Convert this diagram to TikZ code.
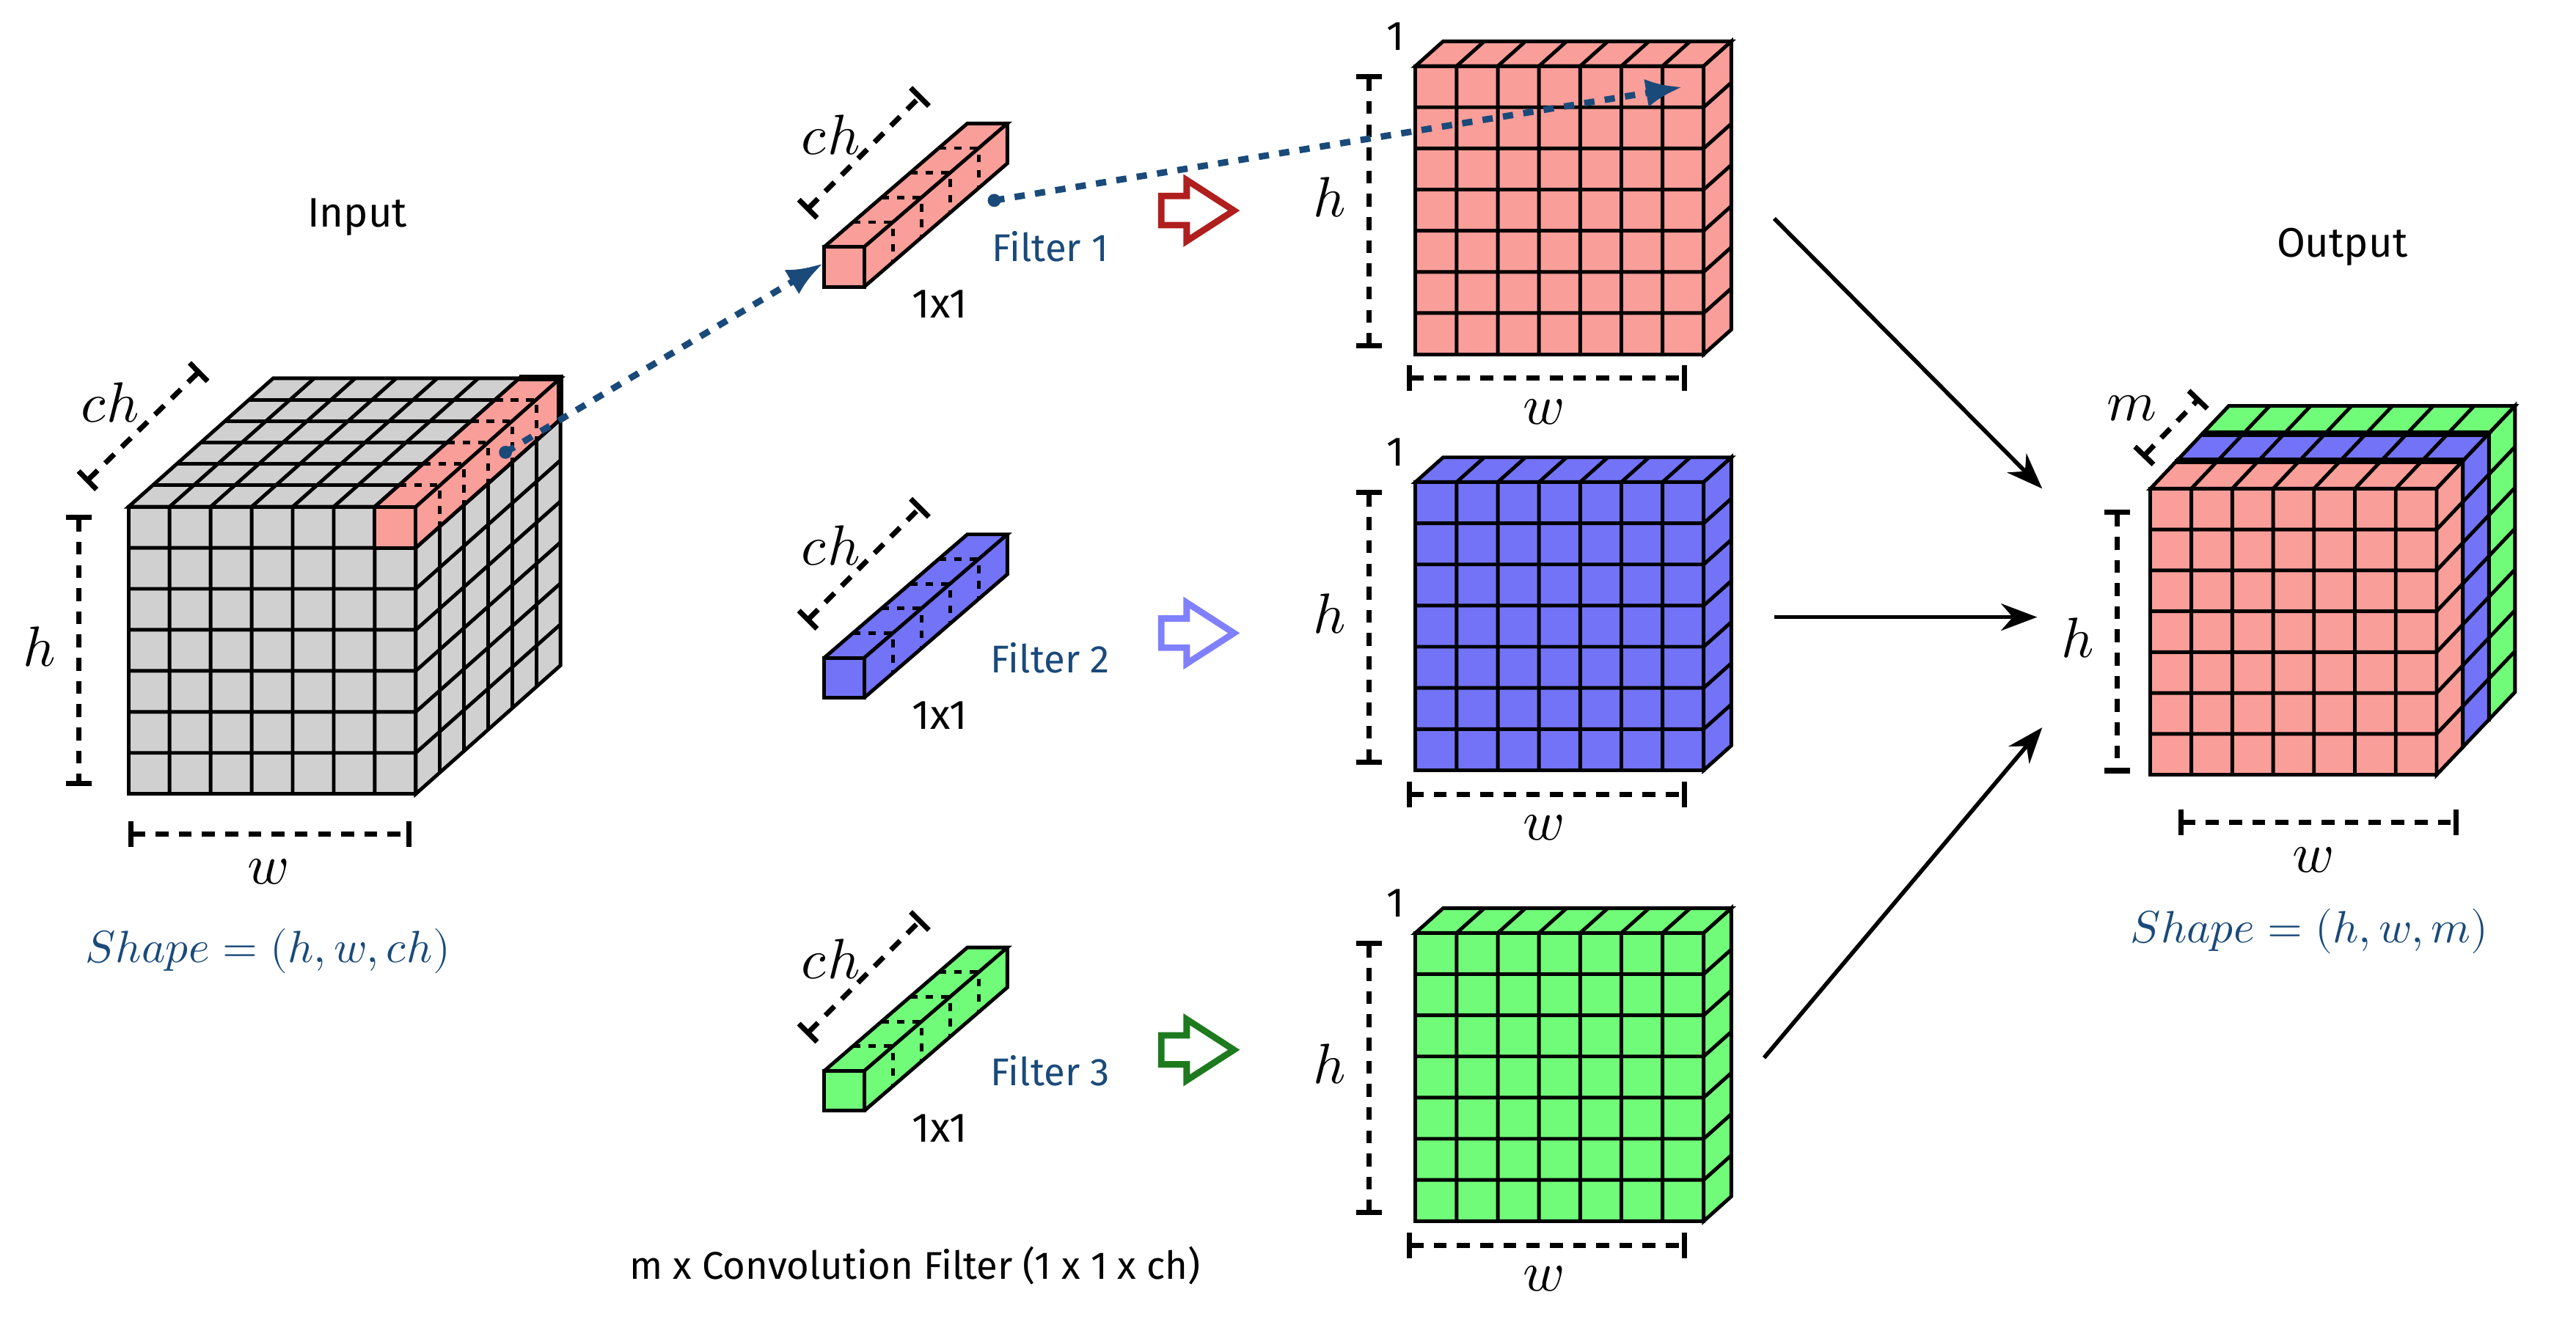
\documentclass[tikz,border=0pt]{standalone}
\usepackage{fontspec}
\setmainfont{Fira Sans}
\usepackage{unicode-math}
\setmathfont{Latin Modern Math}
\usetikzlibrary{arrows.meta}
\definecolor{cred}{HTML}{FA9E99}
\definecolor{cblue}{HTML}{7373F8}
\definecolor{cgreen}{HTML}{70FB78}
\definecolor{cgray}{HTML}{D0D0D0}
\definecolor{ctext}{HTML}{1A4A7A}
\definecolor{ared}{HTML}{B01E1E}
\definecolor{ablue}{HTML}{8080FF}
\definecolor{agreen}{HTML}{1E7A1E}
\newcommand{\gbox}[9]{%
 \pgfmathsetmacro\gbW{#3*#4}\pgfmathsetmacro\gbH{#3*#5}%
 \pgfmathsetmacro\gbDX{#7*#6}\pgfmathsetmacro\gbDY{#8*#6}%
 \filldraw[fill=#9] (#1,#2) rectangle ++(\gbW,\gbH);
 \filldraw[fill=#9] (#1,#2) -- ++(\gbDX,\gbDY) -- ++(\gbW,0) -- ++(-\gbDX,-\gbDY) -- cycle;
 \filldraw[fill=#9] (#1+\gbW,#2) -- ++(\gbDX,\gbDY) -- ++(0,\gbH) -- ++(-\gbDX,-\gbDY) -- cycle;
 \pgfmathtruncatemacro\gbA{#4-1}\pgfmathtruncatemacro\gbB{#5-1}\pgfmathtruncatemacro\gbC{#6-1}%
 \foreach \i in {1,...,\gbA}{\draw (#1+\i*#3,#2+\gbH) -- (#1+\i*#3,#2) -- ++(\gbDX,\gbDY);}
 \foreach \j in {1,...,\gbB}{\draw (#1,#2+\j*#3) -- ++(\gbW,0) -- ++(\gbDX,\gbDY);}
 \ifnum#6>1 \foreach \k in {1,...,\gbC}{\draw (#1+\k*#7,#2+\k*#8) -- ++(\gbW,0) -- ++(0,\gbH);}\fi
}
\newcommand{\filt}[3]{% x y color
 \fill[#3] (#1,#2) -- ++(197,-170) -- ++(55,0) -- ++(0,55) -- ++(-197,170) -- ++(-55,0) -- cycle;
 \foreach \k in {1,...,4}{\draw[line width=1.4pt,dash pattern=on 3pt off 3pt] (#1+\k*39.4,#2-\k*34) -- ++(55,0) -- ++(0,55);}
 \draw (#1,#2) -- ++(197,-170) -- ++(55,0) -- ++(-197,170);
 \draw (#1+55,#2+55) -- ++(197,-170) -- ++(0,-55);
 \draw (#1,#2) rectangle ++(55,55);
}
\newcommand{\harrow}[3]{% cx cy color
 \draw[#3,line width=2.5pt,fill=white] (#1-50,#2-20) -- (#1-15,#2-20) -- (#1-15,#2-42) -- (#1+50,#2) -- (#1-15,#2+42) -- (#1-15,#2+20) -- (#1-50,#2+20) -- cycle;
}
\tikzset{
 dim/.style={line width=2pt,dash pattern=on 5pt off 4pt,{Bar[width=10pt]}-{Bar[width=10pt]}},
 lab/.style={font=\fontsize{16}{19}\selectfont},
 mlab/.style={font=\fontsize{22}{26}\selectfont},
 flab/.style={font=\fontsize{15}{18}\selectfont,text=ctext},
 conn/.style={ctext,line width=2.5pt,dash pattern=on 4pt off 4pt,-{Latex[length=14pt,width=11pt]}},
 blk/.style={line width=1.6pt,-{Stealth[length=14pt]}}
}
\begin{document}
\begin{tikzpicture}[x=0.0099cm,y=-0.0099cm,line width=1.4pt]
\useasboundingbox (0,0) rectangle (3547,1840);
% input cube
\gbox{177}{698}{56.5}{7}{7}{6}{33.2}{-29.5}{cgray}
\fill[cred] (516,698) -- ++(199,-177) -- ++(56.5,0) -- ++(0,56.5) -- ++(-199,177) -- ++(-56.5,0) -- cycle;
\foreach \k in {1,...,5}{\draw[line width=1.4pt,dash pattern=on 3pt off 3pt] (516+\k*33.2,698-\k*29.5) -- ++(56.5,0) -- ++(0,56.5);}
\draw (516,698) -- ++(199,-177) -- ++(56.5,0) -- ++(-199,177);
\draw (572.5,754.5) -- ++(199,-177) -- ++(0,-56.5);
\draw (516,698) rectangle ++(56.5,56.5);
\draw[line width=2.6pt] (715,521) -- (771.5,521) -- (771.5,577.5);
% filters
\filt{1135}{340}{cred}
\filt{1135}{906}{cblue}
\filt{1135}{1475}{cgreen}
% feature maps
\gbox{1949}{91}{56.7}{7}{7}{1}{38}{-34}{cred}
\gbox{1949}{664}{56.7}{7}{7}{1}{38}{-34}{cblue}
\gbox{1949}{1285}{56.7}{7}{7}{1}{38}{-34}{cgreen}
% output
\gbox{3033}{597}{56.3}{7}{7}{1}{36}{-38}{cgreen}
\gbox{2997}{635}{56.3}{7}{7}{1}{36}{-38}{cblue}
\gbox{2961}{673}{56.3}{7}{7}{1}{36}{-38}{cred}
\draw[line width=2.6pt] (3033,597) -- ++(394,0);
\draw[line width=2.6pt] (2997,635) -- ++(394,0);
% hollow arrows
\harrow{1649}{290}{ared}
\harrow{1649}{872}{ablue}
\harrow{1649}{1446}{agreen}
% dims
\coordinate (ic1) at (118,664); \coordinate (ic2) at (276,510);
\draw[dim] (ic1) -- (ic2);
\coordinate (ih1) at (109,709); \coordinate (ih2) at (109,1083);
\draw[dim] (ih1) -- (ih2);
\coordinate (iw1) at (177,1149); \coordinate (iw2) at (567,1149);
\draw[dim] (iw1) -- (iw2);
\foreach \o [count=\n] in {0,566,1135}{
 \coordinate (fc\n a) at (1110,290+\o); \coordinate (fc\n b) at (1269,131+\o);
 \draw[dim] (fc\n a) -- (fc\n b);
 \node[mlab] (fch\n) at (1144,186+\o) {$ch$};
 \node[lab] (f11\n) at (1294,419+\o) {1x1};
 \node[flab] (fn\n) at (1446,340+\o) {Filter \n};
}
\foreach \o [count=\n] in {0,573,1194}{
 \coordinate (mh\n a) at (1885,102+\o); \coordinate (mh\n b) at (1885,480+\o);
 \draw[dim] (mh\n a) -- (mh\n b);
 \coordinate (mw\n a) at (1937,521+\o); \coordinate (mw\n b) at (2323,521+\o);
 \draw[dim] (mw\n a) -- (mw\n b);
 \node[lab] (mone\n) at (1922,50+\o) {1};
 \node[mlab] (mhl\n) at (1831,272+\o) {$h$};
 \node[mlab] (mwl\n) at (2125,567+\o) {$w$};
}
\coordinate (om1) at (2950,630); \coordinate (om2) at (3029,548);
\draw[dim] (om1) -- (om2);
\coordinate (oh1) at (2915,702); \coordinate (oh2) at (2915,1065);
\draw[dim] (oh1) -- (oh2);
\coordinate (ow1) at (3000,1133); \coordinate (ow2) at (3385,1133);
\draw[dim] (ow1) -- (ow2);
% labels
\node[lab] (tin) at (492,299) {Input};
\node[mlab] (lch) at (152,555) {$ch$};
\node[mlab] (lh) at (54,891) {$h$};
\node[mlab] (lw) at (369,1201) {$w$};
\node[text=ctext,font=\fontsize{17.5}{21}\selectfont] (shin) at (369,1310) {$\symit{Shape} = (h, w, ch)$};
\node[lab] (tout) at (3225,340) {Output};
\node[mlab] (lm) at (2935,562) {$m$};
\node[mlab] (loh) at (2861,879) {$h$};
\node[mlab] (low) at (3185,1185) {$w$};
\node[text=ctext,font=\fontsize{17.5}{21}\selectfont] (shout) at (3180,1283) {$\symit{Shape} = (h, w, m)$};
\node[lab,font=\fontsize{15}{18}\selectfont] (tconv) at (1260,1743) {m x Convolution Filter (1 x 1 x ch)};
% blue dotted connectors
\coordinate (d1) at (696,623); \coordinate (e1) at (1133,363);
\coordinate (d2) at (1369,276); \coordinate (e2) at (2316,120);
\fill[ctext] (d1) circle (9);
\fill[ctext] (d2) circle (9);
\draw[conn] (d1) -- (e1);
\draw[conn] (d2) -- (e2);
% black arrows
\coordinate (a1) at (2443,301); \coordinate (b1) at (2812,673);
\coordinate (a2) at (2443,850); \coordinate (b2) at (2805,850);
\coordinate (a3) at (2429,1457); \coordinate (b3) at (2812,1002);
\draw[blk] (a1) -- (b1);
\draw[blk] (a2) -- (b2);
\draw[blk] (a3) -- (b3);
\end{tikzpicture}
\end{document}
